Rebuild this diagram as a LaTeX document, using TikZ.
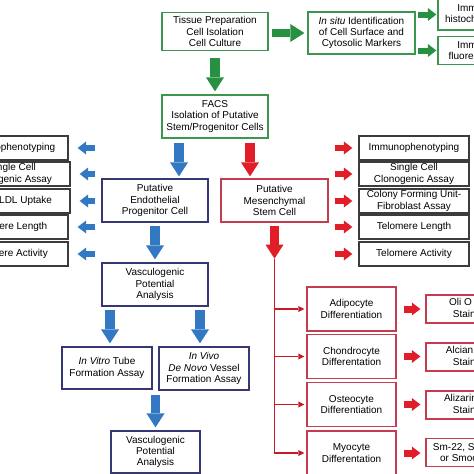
\documentclass[tikz,border=0pt]{standalone}
\usepackage{fontspec}
\setmainfont{Liberation Sans}
\usetikzlibrary{arrows.meta,calc}
\definecolor{garr}{RGB}{40,145,65}
\definecolor{gbox}{RGB}{60,150,80}
\definecolor{barr}{RGB}{50,120,195}
\definecolor{nbox}{RGB}{55,55,115}
\definecolor{rarr}{RGB}{225,30,40}
\definecolor{rbox}{RGB}{195,60,80}
\definecolor{kbox}{RGB}{60,60,60}
\tikzset{
  box/.style={draw, line width=1.25pt, inner sep=0pt, align=center,
    font=\fontsize{10}{11.3}\selectfont},
  gb/.style={box, draw=gbox},
  nb/.style={box, draw=nbox},
  rb/.style={box, draw=rbox},
  kb/.style={box, draw=kbox},
  bigarr/.style={line width=9.5pt, -{Triangle[width=18pt,length=14pt,line width=0pt]}},
  smallarr/.style={line width=6pt, -{Triangle[width=13pt,length=8.5pt,line width=0pt]}},
  thinarr/.style={line width=1.4pt, rarr!90!black, -{Triangle[width=6pt,length=6pt,line width=0pt]}},
}
\begin{document}
\begin{tikzpicture}[x=1pt,y=1pt]
\useasboundingbox (0,0) rectangle (474,-474);
\fill[white] (0,0) rectangle (474,-474);
\clip (0,0) rectangle (474,-474);

% top row
\node[gb, minimum width=106pt, minimum height=38pt] (tissue) at (215,-31.5)
  {Tissue Preparation\\Cell Isolation\\Cell Culture};
\node[gb, minimum width=107pt, minimum height=42pt] (insitu) at (361.5,-33)
  {\textit{In situ} Identification\\of Cell Surface and\\Cytosolic Markers};
\node[gb, minimum width=78pt, minimum height=31pt] (ihc) at (477,-14.5)
  {Immuno-\\histochemistry};
\node[gb, minimum width=78pt, minimum height=28pt] (ifl) at (477,-50.5)
  {Immuno-\\fluorescence};

\node[gb, minimum width=106pt, minimum height=43pt] (facs) at (215,-116.5)
  {FACS\\Isolation of Putative\\Stem/Progenitor Cells};

\node[nb, minimum width=106pt, minimum height=43pt] (epc) at (155,-200.5)
  {Putative\\Endothelial\\Progenitor Cell};
\node[rb, minimum width=107pt, minimum height=43pt] (msc) at (274.5,-200.5)
  {Putative\\Mesenchymal\\Stem Cell};

% left assay boxes
\node[kb, minimum width=116pt, minimum height=24pt] (L1) at (10,-148) {Immunophenotyping};
\node[kb, minimum width=116pt, minimum height=24pt] (L2) at (12,-174) {Single Cell\\Clonogenic Assay};
\node[kb, minimum width=116pt, minimum height=24pt] (L3) at (12,-201) {DiI-AcLDL Uptake};
\node[kb, minimum width=116pt, minimum height=24pt] (L4) at (10,-227) {Telomere Length};
\node[kb, minimum width=116pt, minimum height=24pt] (L5) at (10,-254) {Telomere Activity};

% right assay boxes
\node[kb, minimum width=110pt, minimum height=24pt] (R1) at (414,-148) {Immunophenotyping};
\node[kb, minimum width=110pt, minimum height=24pt] (R2) at (414,-174) {Single Cell\\Clonogenic Assay};
\node[kb, minimum width=110pt, minimum height=24pt] (R3) at (414,-201) {Colony Forming Unit-\\Fibroblast Assay};
\node[kb, minimum width=110pt, minimum height=24pt] (R4) at (414,-227) {Telomere Length};
\node[kb, minimum width=110pt, minimum height=24pt] (R5) at (414,-254) {Telomere Activity};

% vasculogenic branch
\node[nb, minimum width=106pt, minimum height=43pt] (vpa1) at (155,-284.5)
  {Vasculogenic\\Potential\\Analysis};
\node[nb, minimum width=90pt, minimum height=42pt] (invitro) at (107,-368)
  {\textit{In Vitro} Tube\\Formation Assay};
\node[nb, minimum width=90pt, minimum height=43pt] (invivo) at (204,-368.5)
  {\textit{In Vivo}\\\textit{De Novo} Vessel\\Formation Assay};
\node[nb, minimum width=89pt, minimum height=42pt] (vpa2) at (155.5,-452)
  {Vasculogenic\\Potential\\Analysis};

% differentiation branch
\node[rb, minimum width=89pt, minimum height=44pt] (D1) at (351.5,-309) {Adipocyte\\Differentiation};
\node[rb, minimum width=89pt, minimum height=44pt] (D2) at (351.5,-356.5) {Chondrocyte\\Differentation};
\node[rb, minimum width=89pt, minimum height=44pt] (D3) at (351.5,-404.5) {Osteocyte\\Differentiation};
\node[rb, minimum width=89pt, minimum height=44pt] (D4) at (351.5,-453) {Myocyte\\Differentation};

\node[rb, minimum width=90pt, minimum height=28pt] (S1) at (471,-309) {Oli O Red\\Staining};
\node[rb, minimum width=90pt, minimum height=28pt] (S2) at (471,-357) {Alcian Blue\\Staining};
\node[rb, minimum width=90pt, minimum height=28pt] (S3) at (471,-405) {Alizarin Red\\Staining};
\node[rb, minimum width=90pt, minimum height=28pt] (S4) at (471,-452.5) {Sm-22, SM-MHC\\or Smoothelin};

% green arrows
\draw[bigarr, garr, line width=8.5pt, shorten <=3pt, shorten >=3pt] (tissue.east |- insitu.west) -- (insitu.west);
\draw[bigarr, garr, shorten <=7pt, shorten >=3pt] (tissue.south) -- (facs.north);
\draw[smallarr, garr, shorten <=2pt, shorten >=1pt] (ihc.west -| insitu.east) -- (ihc.west);
\draw[smallarr, garr, shorten <=2pt, shorten >=1pt] (ifl.west -| insitu.east) -- (ifl.west);

% from FACS
\draw[bigarr, barr, shorten <=4pt, shorten >=2pt] ([xshift=-36pt]facs.south) -- ([xshift=-36pt]facs.south |- epc.north);
\draw[bigarr, rarr, shorten <=4pt, shorten >=2pt] ([xshift=35pt]facs.south) -- ([xshift=35pt]facs.south |- msc.north);

% side arrows
\foreach \i in {1,...,5} {
  \draw[smallarr, barr, shorten <=6pt, shorten >=9pt] (L\i.east -| epc.west) -- (L\i.east);
  \draw[smallarr, rarr, shorten <=6pt, shorten >=6pt] (R\i.west -| msc.east) -- (R\i.west);
}

% EPC branch
\draw[bigarr, barr, shorten <=3pt, shorten >=3pt] (epc.south) -- (vpa1.north);
\draw[bigarr, barr, shorten <=3pt, shorten >=3pt] ([xshift=-45pt]vpa1.south) -- ([xshift=-45pt]vpa1.south |- invitro.north);
\draw[bigarr, barr, shorten <=3pt, shorten >=3pt] ([xshift=45pt]vpa1.south) -- ([xshift=45pt]vpa1.south |- invivo.north);
\coordinate (mid) at ($(invitro.south)!0.5!(invivo.south)$);
\draw[bigarr, barr, shorten <=4.5pt, shorten >=3pt] (mid) -- (mid |- vpa2.north);

% MSC branch
\coordinate (trunk) at ($(msc.south)+(0,-36)$);
\draw[bigarr, rarr, shorten <=3pt] (msc.south) -- (trunk);
\foreach \i in {1,...,4} {
  \draw[thinarr, shorten >=2pt] (trunk) |- (D\i.west);
  \draw[smallarr, rarr, line width=7pt, shorten <=7pt, shorten >=5pt] (D\i.east) -- (S\i.west |- D\i.east);
}
\end{tikzpicture}
\end{document}
